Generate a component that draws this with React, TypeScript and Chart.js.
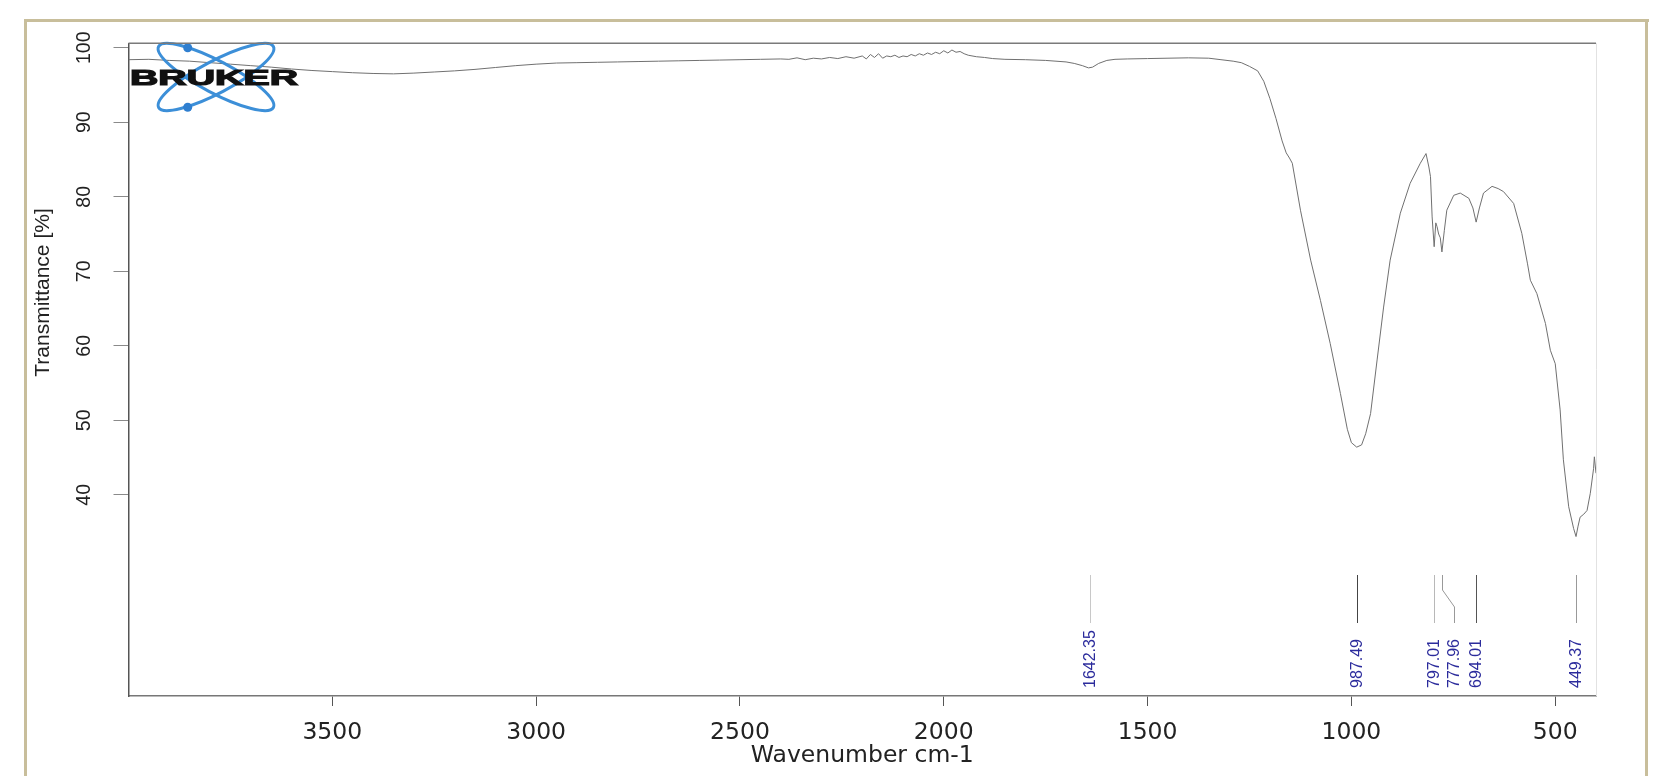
import React, { useEffect, useRef } from 'react';
import { Chart, registerables } from 'chart.js';

Chart.register(...registerables);

// ---- data ----
// [wavenumber (cm-1), transmittance (%)]
const spectrumPoints: [number, number][] = [
  [4000, 98.4], [3950, 98.45], [3900, 98.3], [3850, 98.2], [3800, 98.0], [3750, 97.8],
  [3700, 97.6], [3650, 97.4], [3600, 97.15], [3550, 96.95], [3500, 96.8], [3450, 96.65],
  [3400, 96.55], [3350, 96.5], [3300, 96.6], [3250, 96.75], [3200, 96.9], [3150, 97.1],
  [3100, 97.35], [3050, 97.6], [3000, 97.8], [2950, 97.95], [2900, 98.0], [2850, 98.05],
  [2800, 98.1], [2750, 98.15], [2700, 98.2], [2650, 98.25], [2600, 98.3], [2550, 98.35],
  [2500, 98.4], [2450, 98.45], [2400, 98.5], [2380, 98.45], [2360, 98.65], [2340, 98.4],
  [2320, 98.6], [2300, 98.5], [2280, 98.7], [2260, 98.55], [2240, 98.8], [2220, 98.6],
  [2200, 98.9], [2190, 98.5], [2180, 99.1], [2170, 98.7], [2160, 99.2], [2150, 98.6],
  [2140, 98.9], [2130, 98.8], [2120, 99.0], [2110, 98.7], [2100, 98.9], [2090, 98.8],
  [2080, 99.1], [2070, 98.9], [2060, 99.2], [2050, 99.0], [2040, 99.3], [2030, 99.1],
  [2020, 99.4], [2010, 99.2], [2000, 99.6], [1990, 99.3], [1980, 99.7], [1970, 99.4],
  [1960, 99.5], [1950, 99.2], [1940, 99.0], [1920, 98.8], [1900, 98.7], [1880, 98.55],
  [1850, 98.45], [1800, 98.4], [1750, 98.3], [1700, 98.1], [1680, 97.9], [1660, 97.6],
  [1645, 97.3], [1635, 97.4], [1620, 97.9], [1600, 98.3], [1580, 98.45], [1550, 98.5],
  [1500, 98.55], [1450, 98.6], [1400, 98.65], [1350, 98.6], [1320, 98.4], [1290, 98.2],
  [1270, 98.0], [1250, 97.5], [1230, 96.9], [1215, 95.5], [1200, 93.2], [1185, 90.5],
  [1170, 87.5], [1160, 85.9], [1152, 85.2], [1145, 84.5], [1125, 78.2], [1100, 71.5],
  [1076, 66.1], [1052, 60.3], [1027, 53.6], [1010, 48.8], [1000, 47.0], [987, 46.4],
  [975, 46.7], [965, 48.2], [953, 50.9], [937, 58.1], [921, 65.2], [905, 71.5],
  [880, 77.8], [856, 81.8], [831, 84.5], [817, 85.8], [810, 84.0], [806, 82.7],
  [802, 77.3], [797, 73.3], [793, 76.5], [790, 76.0], [786, 75.0], [782, 74.5],
  [778, 72.6], [772, 75.5], [766, 78.2], [749, 80.2], [733, 80.5], [712, 79.8],
  [702, 78.5], [694, 76.6], [686, 78.5], [676, 80.5], [655, 81.4], [640, 81.1],
  [627, 80.7], [602, 79.1], [582, 75.1], [568, 71.0], [561, 68.8], [545, 67.0],
  [524, 63.0], [512, 59.4], [500, 57.6], [488, 51.4], [480, 44.7], [467, 38.4],
  [455, 35.5], [449, 34.4], [444, 35.8], [439, 37.0], [430, 37.4], [422, 37.9],
  [414, 40.2], [406, 43.5], [404, 45.1], [402, 44.0], [400, 42.9],
];

const xTickValues = [3500, 3000, 2500, 2000, 1500, 1000, 500];
const yTickValues = [100, 90, 80, 70, 60, 50, 40];
const xRange = [400, 4000];
const yRange = [13.0, 100.6];

const peakWavenumbers = [1642.35, 987.49, 797.01, 777.96, 694.01, 449.37];
const peakLabels = ['1642.35', '987.49', '797.01', '777.96', '694.01', '449.37'];

const xAxisTitle = 'Wavenumber cm-1';
const yAxisTitle = 'Transmittance [%]';
const logoText = 'BRUKER';

// ---- styling ----
const FONT_ARIAL = '"Liberation Sans", Arial, Helvetica, sans-serif';
const FONT_WIDE = '"DejaVu Sans", "Liberation Sans", sans-serif';
const peakLineShades = ['#c8c8c8', '#444444', '#b8b8b8', '#999999', '#555555', '#999999'];

const decorPlugin = {
  id: 'irDecor',
  beforeDraw(chart: any) {
    const { ctx, width, height } = chart;
    ctx.save();
    ctx.fillStyle = '#ffffff';
    ctx.fillRect(0, 0, width, height);
    // page frame: top, left and right only
    ctx.fillStyle = '#c8be9b';
    ctx.fillRect(24, 19, 1625, 3);
    ctx.fillRect(24, 19, 3, height - 19);
    ctx.fillRect(1645, 19, 3, height - 19);
    ctx.restore();
  },
  afterDatasetsDraw(chart: any) {
    const { ctx } = chart;
    ctx.save();
    // Bruker logo: two crossing orbits, two dots and the word mark
    const cx = 216, cy = 77;
    ctx.strokeStyle = '#3c8fd8';
    ctx.lineWidth = 3;
    ctx.beginPath();
    ctx.ellipse(cx, cy, 65, 16, (28 * Math.PI) / 180, 0, Math.PI * 2);
    ctx.stroke();
    ctx.beginPath();
    ctx.ellipse(cx, cy, 65, 16, (-28 * Math.PI) / 180, 0, Math.PI * 2);
    ctx.stroke();
    ctx.fillStyle = '#2f7fd0';
    ctx.beginPath();
    ctx.arc(187.7, 47.7, 4.5, 0, Math.PI * 2);
    ctx.fill();
    ctx.beginPath();
    ctx.arc(187.7, 107.3, 4.5, 0, Math.PI * 2);
    ctx.fill();
    ctx.font = `bold 22px ${FONT_ARIAL}`;
    const w = ctx.measureText(logoText).width;
    ctx.translate(130, 85);
    ctx.scale(168 / w, 1);
    ctx.fillStyle = '#111111';
    ctx.strokeStyle = '#111111';
    ctx.lineWidth = 1.2;
    ctx.textBaseline = 'alphabetic';
    ctx.textAlign = 'left';
    ctx.fillText(logoText, 0, 0);
    ctx.strokeText(logoText, 0, 0);
    ctx.restore();
  },
  afterDraw(chart: any) {
    const { ctx, chartArea } = chart;
    const { left, right, top, bottom } = chartArea;
    const xs = chart.scales.x;
    const ys = chart.scales.y;
    ctx.save();
    // top and right frame of plot area
    ctx.strokeStyle = '#7a7a7a';
    ctx.lineWidth = 1.5;
    ctx.beginPath();
    ctx.moveTo(left, top);
    ctx.lineTo(right, top);
    ctx.stroke();
    ctx.strokeStyle = '#e2e2e2';
    ctx.lineWidth = 1;
    ctx.beginPath();
    ctx.moveTo(right + 0.5, top);
    ctx.lineTo(right + 0.5, bottom);
    ctx.stroke();

    // y tick labels (rotated, reading bottom to top)
    ctx.fillStyle = '#222222';
    ctx.font = `19.5px ${FONT_ARIAL}`;
    ctx.textAlign = 'center';
    ctx.textBaseline = 'alphabetic';
    for (const v of yTickValues) {
      const py = ys.getPixelForValue(v);
      ctx.save();
      ctx.translate(90, py);
      ctx.rotate(-Math.PI / 2);
      ctx.fillText(String(v), 0, 0);
      ctx.restore();
    }

    // y axis title
    ctx.save();
    ctx.font = `21px ${FONT_ARIAL}`;
    ctx.translate(49, 292.5);
    ctx.rotate(-Math.PI / 2);
    ctx.fillText(yAxisTitle, 0, 0);
    ctx.restore();

    // peak markers
    const pix = peakWavenumbers.map((wn) => xs.getPixelForValue(wn));
    const order = pix.map((p, i) => i).sort((a, b) => pix[a] - pix[b]);
    const labelX: number[] = new Array(pix.length);
    let prev = -Infinity;
    for (const i of order) {
      const lx = Math.max(pix[i], prev + 20);
      labelX[i] = lx;
      prev = lx;
    }
    const lineTop = 575, lineBottom = 623, labelBottom = 688;
    for (let i = 0; i < pix.length; i++) {
      const px = Math.round(pix[i]) + 0.5;
      const lx = Math.round(labelX[i]) + 0.5;
      ctx.strokeStyle = peakLineShades[i];
      ctx.lineWidth = 1;
      ctx.beginPath();
      ctx.moveTo(px, lineTop);
      if (Math.abs(lx - px) > 1) {
        ctx.lineTo(px, 590);
        ctx.lineTo(lx, 607);
      }
      ctx.lineTo(lx, lineBottom);
      ctx.stroke();

      ctx.save();
      ctx.fillStyle = '#2b2b9c';
      ctx.font = `16px ${FONT_ARIAL}`;
      ctx.textAlign = 'left';
      ctx.textBaseline = 'middle';
      ctx.translate(lx, labelBottom);
      ctx.rotate(-Math.PI / 2);
      ctx.fillText(peakLabels[i], 0, 0);
      ctx.restore();
    }
    ctx.restore();
  },
};

export default function App() {
  const canvasRef = useRef<HTMLCanvasElement | null>(null);

  useEffect(() => {
    const canvas = canvasRef.current;
    if (!canvas) return;
    const chart = new Chart(canvas, {
      type: 'line',
      data: {
        datasets: [
          {
            label: 'Spectrum',
            data: spectrumPoints.map(([x, y]) => ({ x, y })),
            borderColor: '#707070',
            borderWidth: 1,
            pointRadius: 0,
            tension: 0,
            fill: false,
          },
        ],
      },
      options: {
        animation: false,
        responsive: false,
        devicePixelRatio: 1,
        events: [],
        layout: { padding: { left: 0, right: 70, top: 43.3, bottom: 0 } },
        plugins: {
          legend: { display: false },
          tooltip: { enabled: false },
          title: { display: false },
        },
        scales: {
          x: {
            type: 'linear',
            reverse: true,
            min: xRange[0],
            max: xRange[1],
            afterBuildTicks: (scale: any) => {
              scale.ticks = xTickValues.map((v) => ({ value: v }));
            },
            afterFit: (scale: any) => {
              scale.height = 80;
            },
            ticks: {
              autoSkip: false,
              maxRotation: 0,
              minRotation: 0,
              padding: 13,
              color: '#222222',
              font: { family: FONT_WIDE, size: 23.5 },
              callback: (v: any) => String(v),
            },
            grid: {
              drawOnChartArea: false,
              drawTicks: true,
              tickLength: 10,
              color: '#555555',
              tickColor: '#555555',
            },
            border: { display: true, color: '#777777', width: 1.5 },
            title: {
              display: true,
              text: xAxisTitle,
              color: '#222222',
              font: { family: FONT_WIDE, size: 23.5 },
              padding: { top: 0, bottom: 6 },
            },
          },
          y: {
            type: 'linear',
            min: yRange[0],
            max: yRange[1],
            afterBuildTicks: (scale: any) => {
              scale.ticks = yTickValues.map((v) => ({ value: v }));
            },
            afterFit: (scale: any) => {
              scale.width = 128.5;
            },
            ticks: { display: false },
            grid: {
              drawOnChartArea: false,
              drawTicks: true,
              tickLength: 15,
              color: '#8a8a8a',
              tickColor: '#8a8a8a',
            },
            border: { display: true, color: '#555555', width: 1.5 },
          },
        },
      },
      plugins: [decorPlugin],
    });
    return () => chart.destroy();
  }, []);

  return (
    <div style={{ position: 'absolute', left: 0, top: 0, width: 1666, height: 776, background: '#ffffff' }}>
      <canvas ref={canvasRef} width={1666} height={776} style={{ display: 'block', width: 1666, height: 776 }} />
    </div>
  );
}
